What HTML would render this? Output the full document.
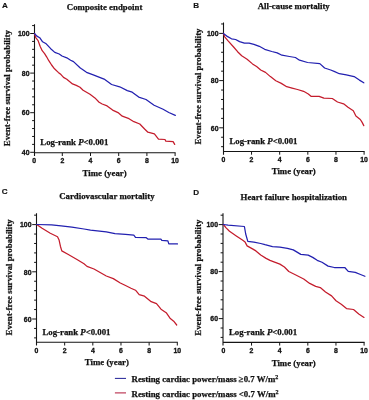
<!DOCTYPE html>
<html><head><meta charset="utf-8"><style>
html,body{margin:0;padding:0;background:#fff;width:369px;height:400px;overflow:hidden}
svg{display:block;will-change:transform}
.t{font-family:"Liberation Serif",serif;font-weight:bold;font-size:8.8px;fill:#111;stroke:#111;stroke-width:0.25px}
.n{font-family:"Liberation Sans",sans-serif;font-weight:bold;font-size:6.9px;fill:#111;stroke:#111;stroke-width:0.3px}
.L{font-family:"Liberation Sans",sans-serif;font-weight:bold;font-size:8.1px;fill:#111;stroke:#111;stroke-width:0.15px}
</style></head><body>
<svg width="369" height="400" viewBox="0 0 369 400">
<g><path d="M34.5 24.3V156M34.5 152.8H175.6" stroke="#151515" stroke-width="1.1" fill="none"/><path d="M30.2 33.5H34.5M32.1 25.58H34.5M32.1 41.42H34.5M32.1 49.34H34.5M32.1 57.26H34.5M32.1 65.18H34.5M30.2 73.1H34.5M32.1 81.02H34.5M32.1 88.94H34.5M32.1 96.86H34.5M32.1 104.78H34.5M30.2 112.7H34.5M32.1 120.62H34.5M32.1 128.54H34.5M32.1 136.46H34.5M32.1 144.38H34.5M30.2 152.3H34.5M62.3 152.8V156M90.5 152.8V156M118.7 152.8V156M146.9 152.8V156M175.1 152.8V156" stroke="#151515" stroke-width="1" fill="none"/><text class="n" x="29.5" y="36.2" text-anchor="end">100</text><text class="n" x="29.5" y="75.8" text-anchor="end">80</text><text class="n" x="29.5" y="115.4" text-anchor="end">60</text><text class="n" x="29.5" y="155" text-anchor="end">40</text><text class="n" x="34.1" y="163.4" text-anchor="middle">0</text><text class="n" x="62.3" y="163.4" text-anchor="middle">2</text><text class="n" x="90.5" y="163.4" text-anchor="middle">4</text><text class="n" x="118.7" y="163.4" text-anchor="middle">6</text><text class="n" x="146.9" y="163.4" text-anchor="middle">8</text><text class="n" x="175.1" y="163.4" text-anchor="middle">10</text><polyline points="34.5,33.5 35.7,37.7 38.1,40.6 40.1,46.3 42.2,50.7 44.6,53.6 46.6,56.8 48.8,60.7 51.6,65 54.5,68.8 58.3,72.4 61,74.6 63.5,77.4 66.8,79.2 72.5,83.9 76.3,85.4 80,87.3 83.1,90.2 90,94.3 94.9,97.9 99.1,102.2 102.2,104 107.1,105.9 112.6,110.1 118,112.6 122.3,116.2 129,118.7 133.9,121.7 139.8,124 144.6,129 147.9,132.2 154.4,133.8 158.5,139.2 165,139.5 165.8,141.1 173.1,141.6 174.7,144.4" stroke="#c41c2c" stroke-width="1.25" fill="none" stroke-linejoin="round" stroke-linecap="round"/><polyline points="34.5,33.5 36.9,36.1 39.7,37.7 42.6,41.8 46.2,43.8 50.7,48.7 54.8,52.4 59.2,54 62,56 66.8,57.8 70.6,60.2 73.5,61.6 80,67.8 81.1,68.6 86.5,72.3 92.6,74.6 104.1,79.1 111.6,84.5 119.7,86.8 127.3,90.6 132.2,92.2 138.7,97.1 146,99.5 154.1,105.2 163.1,109.3 168.8,112.5 175.3,115.4" stroke="#2220b0" stroke-width="1.25" fill="none" stroke-linejoin="round" stroke-linecap="round"/><text class="t" x="104.6" y="9.7" text-anchor="middle">Composite endpoint</text><text class="L" x="2.0" y="7.7">A</text><text class="t" transform="translate(9.7 88.2) rotate(-90)" text-anchor="middle">Event-free survival probability</text><text class="t" x="40.3" y="145.3">Log-rank <tspan font-style="italic">P</tspan>&lt;0.001</text><text class="t" x="104.6" y="176.0" text-anchor="middle">Time (year)</text></g>
<g><path d="M223.5 22.4V154.7M223.5 151.5H364.6" stroke="#151515" stroke-width="1.1" fill="none"/><path d="M219.2 33.4H223.5M221.1 23.96H223.5M221.1 42.84H223.5M221.1 52.28H223.5M221.1 61.72H223.5M221.1 71.16H223.5M219.2 80.6H223.5M221.1 90.04H223.5M221.1 99.48H223.5M221.1 108.92H223.5M221.1 118.36H223.5M219.2 127.8H223.5M221.1 137.24H223.5M221.1 146.68H223.5M251.54 151.5V154.7M279.68 151.5V154.7M307.82 151.5V154.7M335.96 151.5V154.7M364.1 151.5V154.7" stroke="#151515" stroke-width="1" fill="none"/><text class="n" x="218.5" y="36.1" text-anchor="end">100</text><text class="n" x="218.5" y="83.3" text-anchor="end">80</text><text class="n" x="218.5" y="130.5" text-anchor="end">60</text><text class="n" x="223.4" y="162.1" text-anchor="middle">0</text><text class="n" x="251.54" y="162.1" text-anchor="middle">2</text><text class="n" x="279.68" y="162.1" text-anchor="middle">4</text><text class="n" x="307.82" y="162.1" text-anchor="middle">6</text><text class="n" x="335.96" y="162.1" text-anchor="middle">8</text><text class="n" x="364.1" y="162.1" text-anchor="middle">10</text><polyline points="223.4,33.4 224.7,36.8 228.1,40.9 233.6,47 237.6,51.7 241.7,55.8 247.1,59.2 252.5,63.9 256.6,66.6 260.7,70 265.5,72.4 270.4,76.6 275.8,80.7 281.3,83.4 286.7,86.7 292.1,88.1 297.5,89.5 303.6,91.3 308.3,94 311,96.3 319.1,96.3 323.9,98.1 332.3,98.5 337.5,102 343.6,103.8 348,107.3 353.3,110.8 355.9,116 360.3,119.5 362,122.1 363.8,125.6" stroke="#c41c2c" stroke-width="1.25" fill="none" stroke-linejoin="round" stroke-linecap="round"/><polyline points="223.4,33.4 226.8,36.1 231.5,38.8 235.6,39.5 239.6,41.6 244.4,43.2 249.1,43.2 253.9,44.3 259.3,46.3 264.7,49.3 271.8,51.5 277.2,52.9 281.9,55.2 289.4,56.5 295.4,57.5 299.5,60.2 307.6,62.5 319.8,63.6 324.6,68 330.7,70 334.7,71.7 339.3,73.7 346.3,74.9 354.1,76.6 359.4,80.1 363.8,82.8" stroke="#2220b0" stroke-width="1.25" fill="none" stroke-linejoin="round" stroke-linecap="round"/><text class="t" x="293.75" y="9.4" text-anchor="middle">All-cause mortality</text><text class="L" x="193.2" y="7.7">B</text><text class="t" transform="translate(201.4 86.5) rotate(-90)" text-anchor="middle">Event-free survival probability</text><text class="t" x="229.4" y="143.7">Log-rank <tspan font-style="italic">P</tspan>&lt;0.001</text><text class="t" x="293.75" y="174.3" text-anchor="middle">Time (year)</text></g>
<g><path d="M36.5 213.2V345.5M36.5 342.3H177.8" stroke="#151515" stroke-width="1.1" fill="none"/><path d="M32.2 224.6H36.5M34.1 215.16H36.5M34.1 234.04H36.5M34.1 243.48H36.5M34.1 252.92H36.5M34.1 262.36H36.5M32.2 271.8H36.5M34.1 281.24H36.5M34.1 290.68H36.5M34.1 300.12H36.5M34.1 309.56H36.5M32.2 319H36.5M34.1 328.44H36.5M34.1 337.88H36.5M64.66 342.3V345.5M92.82 342.3V345.5M120.98 342.3V345.5M149.14 342.3V345.5M177.3 342.3V345.5" stroke="#151515" stroke-width="1" fill="none"/><text class="n" x="31.5" y="227.3" text-anchor="end">100</text><text class="n" x="31.5" y="274.5" text-anchor="end">80</text><text class="n" x="31.5" y="321.7" text-anchor="end">60</text><text class="n" x="36.5" y="352.9" text-anchor="middle">0</text><text class="n" x="64.66" y="352.9" text-anchor="middle">2</text><text class="n" x="92.82" y="352.9" text-anchor="middle">4</text><text class="n" x="120.98" y="352.9" text-anchor="middle">6</text><text class="n" x="149.14" y="352.9" text-anchor="middle">8</text><text class="n" x="177.3" y="352.9" text-anchor="middle">10</text><polyline points="36.7,224.6 42.1,228.3 50.3,233.2 57.5,236.7 59.1,240.1 60.4,246.2 61.8,250.9 67.9,254.3 77.4,259.7 84,263.8 87,266.4 94,269 106.3,276 113.3,278.6 120.3,283 125,285.3 131,288.2 135.5,290.2 139.2,294.7 144.5,296.2 151.2,301.7 156.5,303.7 161,309.2 166.2,312.7 170,318.2 173.7,321.2 176.7,325" stroke="#c41c2c" stroke-width="1.25" fill="none" stroke-linejoin="round" stroke-linecap="round"/><polyline points="36.7,224.5 51.6,224.8 61.1,225.8 71.9,227.2 84,229 90.5,230.2 106.3,231.9 115,233.7 125.5,234.4 133.8,235.2 135.5,237.3 146,237.6 147.8,239 160.9,239 161.8,240.4 167.9,240.8 168.8,243.9 177.5,243.9" stroke="#2220b0" stroke-width="1.25" fill="none" stroke-linejoin="round" stroke-linecap="round"/><text class="t" x="106.9" y="198.8" text-anchor="middle">Cardiovascular mortality</text><text class="L" x="1.8" y="194.3">C</text><text class="t" transform="translate(11.8 277.4) rotate(-90)" text-anchor="middle">Event-free survival probability</text><text class="t" x="42.4" y="334.9">Log-rank <tspan font-style="italic">P</tspan>&lt;0.001</text><text class="t" x="106.9" y="365.4" text-anchor="middle">Time (year)</text></g>
<g><path d="M223 213.3V345.6M223 342.4H364.6" stroke="#151515" stroke-width="1.1" fill="none"/><path d="M218.7 224.6H223M220.6 215.2H223M220.6 234H223M220.6 243.4H223M220.6 252.8H223M220.6 262.2H223M218.7 271.6H223M220.6 281H223M220.6 290.4H223M220.6 299.8H223M220.6 309.2H223M218.7 318.6H223M220.6 328H223M220.6 337.4H223M251.54 342.4V345.6M279.68 342.4V345.6M307.82 342.4V345.6M335.96 342.4V345.6M364.1 342.4V345.6" stroke="#151515" stroke-width="1" fill="none"/><text class="n" x="218" y="227.3" text-anchor="end">100</text><text class="n" x="218" y="274.3" text-anchor="end">80</text><text class="n" x="218" y="321.3" text-anchor="end">60</text><text class="n" x="223.4" y="353" text-anchor="middle">0</text><text class="n" x="251.54" y="353" text-anchor="middle">2</text><text class="n" x="279.68" y="353" text-anchor="middle">4</text><text class="n" x="307.82" y="353" text-anchor="middle">6</text><text class="n" x="335.96" y="353" text-anchor="middle">8</text><text class="n" x="364.1" y="353" text-anchor="middle">10</text><polyline points="223.4,224.5 226.1,227.9 229.5,231.3 236.3,236 242.4,240.1 245.1,242.1 247.1,245.9 252.5,248.9 255.9,250.9 260.7,255 266.1,258.4 270,260.4 273.9,261.8 279.9,264.1 284.4,267 288.8,271.5 296.3,275.2 303.7,279 309.7,283.4 315.7,286.4 320.25,287.6 325.5,292 331.6,295.85 336,300.75 341.25,304.25 346.5,308.6 353.5,309.5 358.75,313.9 364,317.4" stroke="#c41c2c" stroke-width="1.25" fill="none" stroke-linejoin="round" stroke-linecap="round"/><polyline points="223.4,224.5 228.1,225.2 244.4,226.5 245.7,234 247.8,241.4 253.9,242.1 260.7,243.5 265,244.7 272.5,246.6 279.9,247.2 287.4,248.4 293.3,249.9 300.8,254.4 308.2,255.1 312.7,257.4 317.2,260.3 322,262.25 328.1,266.1 334.3,267.5 344.75,267.5 348.25,271.35 355.25,272.4 360.5,274.5 364.9,276.25" stroke="#2220b0" stroke-width="1.25" fill="none" stroke-linejoin="round" stroke-linecap="round"/><text class="t" x="293.75" y="200.2" text-anchor="middle">Heart failure hospitalization</text><text class="L" x="193.2" y="194.5">D</text><text class="t" transform="translate(201.0 277.7) rotate(-90)" text-anchor="middle">Event-free survival probability</text><text class="t" x="229.0" y="334.9">Log-rank <tspan font-style="italic">P</tspan>&lt;0.001</text><text class="t" x="293.75" y="365.6" text-anchor="middle">Time (year)</text></g>
<path d="M114.9 378.4H126" stroke="#28289a" stroke-width="1.05"/><path d="M114.9 392.9H126" stroke="#b42040" stroke-width="1.05"/><text class="t" x="131.6" y="381.6">Resting cardiac power/mass ≥0.7 W/m<tspan font-size="6" dy="-3">2</tspan></text><text class="t" x="131.6" y="396.8">Resting cardiac power/mass &lt;0.7 W/m<tspan font-size="6" dy="-3">2</tspan></text></svg>
</body></html>
